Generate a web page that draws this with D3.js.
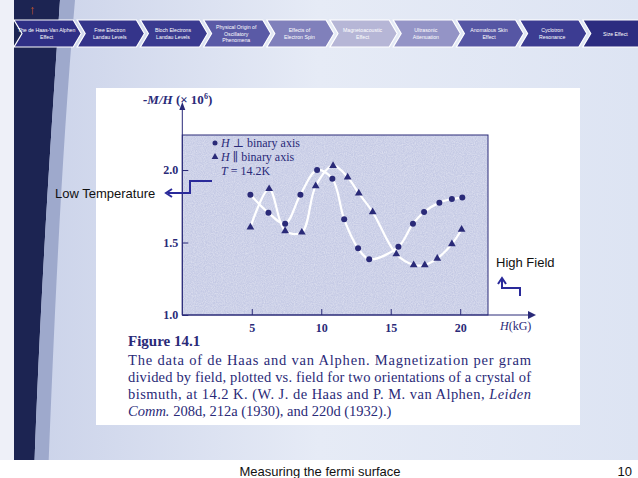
<!DOCTYPE html>
<html><head><meta charset="utf-8">
<script src="https://cdn.jsdelivr.net/npm/d3@7"></script>
<style>body{margin:0;background:#fff}svg{display:block}</style>
</head><body>
<svg id="slide" width="638" height="478"></svg>
<script>
var navLabels = ["The de Haas-Van Alphen\nEffect", "Free Electron\nLandau Levels", "Bloch Electrons\nLandau Levels",
  "Physical Origin of\nOscillatory\nPhenomena", "Effects of\nElectron Spin", "Magnetoacoustic\nEffect",
  "Ultrasonic\nAttenuation", "Anomalous Skin\nEffect", "Cyclotron\nResonance", "Size Effect"];
var navColors = ["#2f2f85", "#34348a", "#3a3a90", "#5a5aa6", "#8080bb", "#b6b6d6", "#9494c6", "#5656a4", "#3c3c92", "#2c2c80"];

var perpH = [4.9, 6.2, 7.4, 8.5, 9.7, 10.8, 11.65, 12.65, 13.45, 15.55, 16.6, 17.4, 18.5, 19.4, 20.15];
var perpM = [1.83, 1.705, 1.63, 1.83, 2.0, 1.94, 1.66, 1.46, 1.385, 1.47, 1.63, 1.71, 1.775, 1.80, 1.81];
var parH = [4.9, 6.25, 7.4, 8.6, 9.6, 10.85, 11.9, 12.7, 13.7, 15.4, 16.65, 17.45, 18.35, 19.4, 20.1];
var parM = [1.605, 1.87, 1.58, 1.57, 1.89, 2.03, 1.95, 1.84, 1.71, 1.42, 1.345, 1.345, 1.39, 1.49, 1.59];
var xTicks = [5, 10, 15, 20];
var yTicks = [1.0, 1.5, 2.0];

var svg = d3.select("#slide");
var defs = svg.append("defs");
var g1 = defs.append("linearGradient").attr("id", "bg").attr("x1", 0).attr("x2", 1);
g1.append("stop").attr("offset", 0).attr("stop-color", "#c8d0e8");
g1.append("stop").attr("offset", 0.5).attr("stop-color", "#e6ebf6");
g1.append("stop").attr("offset", 1).attr("stop-color", "#dde4f3");
var f = defs.append("filter").attr("id", "noise");
f.append("feTurbulence").attr("type", "fractalNoise").attr("baseFrequency", 0.9).attr("numOctaves", 2).attr("result", "n");
f.append("feColorMatrix").attr("type", "matrix").attr("values", "0 0 0 0 1  0 0 0 0 1  0 0 0 0 1  0 0 0 1.4 -0.35");
f.append("feComposite").attr("in2", "SourceGraphic").attr("operator", "in");

// slide background
svg.append("rect").attr("width", 638).attr("height", 478).attr("fill", "url(#bg)");
svg.append("rect").attr("x", 0).attr("y", 0).attr("width", 14).attr("height", 478).attr("fill", "#eef0f8");
svg.append("path").attr("d", "M14,0 H60 C50,150 40,300 34,478 H14 Z").attr("fill", "#1c2452");
svg.append("path").attr("d", "M60,0 H75 C62,150 55,300 48,478 H34 C40,300 50,150 60,0 Z").attr("fill", "#9ea9cc");
svg.append("rect").attr("x", 0).attr("y", 460).attr("width", 638).attr("height", 18).attr("fill", "#fff");
svg.append("rect").attr("x", 20).attr("y", 0).attr("width", 38).attr("height", 18).attr("fill", "#1c2452");
svg.append("text").attr("x", 29).attr("y", 14).attr("fill", "#d05a20").attr("font-size", 13).attr("font-weight", "bold").text("↑");

// nav bar
var nw = 63.2, ny = 20, nh = 27;
var nav = svg.append("g").selectAll("g").data(navLabels).enter().append("g")
  .attr("transform", function (d, i) { return "translate(" + (14 + i * nw) + "," + ny + ")"; });
nav.append("path")
  .attr("d", "M0,0 H" + (nw - 4) + " L" + (nw + 4) + "," + nh / 2 + " L" + (nw - 4) + "," + nh + " H0 L8," + nh / 2 + " Z")
  .attr("fill", function (d, i) { return navColors[i]; }).attr("stroke", "#fff").attr("stroke-width", 1.2);
nav.each(function (d) {
  var lines = d.split("\n");
  var t = d3.select(this).append("text").attr("text-anchor", "middle").attr("fill", "#fff")
    .attr("font-family", "Liberation Sans, Arial").attr("font-size", 5.2);
  lines.forEach(function (l, k) {
    t.append("tspan").attr("x", nw / 2 + 1).attr("y", nh / 2 + 2 + (k - (lines.length - 1) / 2) * 6.2).text(l);
  });
});

// figure panel
svg.append("rect").attr("x", 96).attr("y", 88).attr("width", 484).attr("height", 337).attr("fill", "#fff");

var x = d3.scaleLinear().domain([0, 22]).range([182.3, 488]);
var y = d3.scaleLinear().domain([1.0, 2.0]).range([315, 170]);
var ink = "#2a2a78";

svg.append("rect").attr("x", x(0)).attr("y", 135).attr("width", 488 - x(0)).attr("height", 315 - 135)
  .attr("fill", "#c4c9e4");
svg.append("rect").attr("x", x(0)).attr("y", 135).attr("width", 488 - x(0)).attr("height", 315 - 135)
  .attr("fill", "#fff").attr("filter", "url(#noise)").attr("opacity", 0.45);
svg.append("rect").attr("x", x(0)).attr("y", 135).attr("width", 488 - x(0)).attr("height", 315 - 135)
  .attr("fill", "none").attr("stroke", ink).attr("stroke-width", 1);

var fig = svg.append("g").attr("font-family", "Liberation Serif, DejaVu Serif").attr("fill", ink);
fig.append("g").attr("transform", "translate(0,315)")
  .call(d3.axisBottom(x).tickValues(xTicks).tickSize(-6).tickPadding(8).tickFormat(d3.format("d")))
  .call(function (a) {
    a.select(".domain").attr("stroke", ink).attr("d", "M" + x(0) + ",0H528");
    a.selectAll("line").attr("stroke", ink);
    a.selectAll("text").attr("fill", ink).attr("font-size", 12).attr("font-weight", "bold").attr("font-family", "Liberation Serif");
  });
fig.append("g").attr("transform", "translate(" + x(0) + ",0)")
  .call(d3.axisLeft(y).tickValues(yTicks).tickSize(-6).tickPadding(4).tickFormat(d3.format(".1f")))
  .call(function (a) {
    a.select(".domain").attr("stroke", ink).attr("d", "M0,315V108");
    a.selectAll("line").attr("stroke", ink);
    a.selectAll("text").attr("fill", ink).attr("font-size", 12).attr("font-weight", "bold").attr("font-family", "Liberation Serif");
  });
fig.append("path").attr("d", "M528,311 L536,315 L528,319 Z");
fig.append("path").attr("d", "M" + (x(0) - 3) + ",110 L" + x(0) + ",102 L" + (x(0) + 3) + ",110 Z");
fig.append("text").attr("x", 143).attr("y", 104).attr("font-size", 13).attr("font-style", "italic").attr("font-weight", "bold")
  .html("-M/H <tspan font-style='normal'>(× 10</tspan><tspan font-style='normal' dy='-5' font-size='8'>6</tspan><tspan font-style='normal' dy='5'>)</tspan>");
fig.append("text").attr("x", 500).attr("y", 330).attr("font-size", 12).html("<tspan font-style='italic'>H</tspan>(kG)");

// white curves
var line = d3.line().x(function (d) { return x(d[0]); }).y(function (d) { return y(d[1]); }).curve(d3.curveCatmullRom);
[[perpH, perpM], [parH, parM]].forEach(function (s) {
  svg.append("path").attr("d", line(d3.zip(s[0], s[1]))).attr("fill", "none").attr("stroke", "#fff").attr("stroke-width", 2.2);
});
svg.append("g").selectAll("circle").data(d3.zip(perpH, perpM)).enter().append("circle")
  .attr("cx", function (d) { return x(d[0]); }).attr("cy", function (d) { return y(d[1]); }).attr("r", 3).attr("fill", ink);
svg.append("g").selectAll("path").data(d3.zip(parH, parM)).enter().append("path")
  .attr("d", d3.symbol().type(d3.symbolTriangle).size(26))
  .attr("transform", function (d) { return "translate(" + x(d[0]) + "," + y(d[1]) + ")"; }).attr("fill", ink);

// legend
var lg = fig.append("g").attr("font-size", 12);
lg.append("circle").attr("cx", 215).attr("cy", 143).attr("r", 2.5);
lg.append("text").attr("x", 221).attr("y", 147).html("<tspan font-style='italic'>H</tspan> ⊥ binary axis");
lg.append("path").attr("d", d3.symbol().type(d3.symbolTriangle).size(20)).attr("transform", "translate(215,157)");
lg.append("text").attr("x", 221).attr("y", 161).html("<tspan font-style='italic'>H</tspan> ∥ binary axis");
lg.append("text").attr("x", 221).attr("y", 175).html("<tspan font-style='italic'>T</tspan> = 14.2K");

// caption
var cap = svg.append("g").attr("font-family", "Liberation Serif, DejaVu Serif").attr("fill", ink).attr("font-size", 14.5);
cap.append("text").attr("x", 128).attr("y", 346).attr("font-weight", "bold").attr("font-size", 15).text("Figure 14.1");
["The data of de Haas and van Alphen. Magnetization per gram",
 "divided by field, plotted vs. field for two orientations of a crystal of",
 "bismuth, at 14.2 K. (W. J. de Haas and P. M. van Alphen, <tspan font-style='italic'>Leiden</tspan>",
 "<tspan font-style='italic'>Comm.</tspan> 208d, 212a (1930), and 220d (1932).)"].forEach(function (l, i) {
  cap.append("text").attr("x", 128).attr("y", 365 + i * 17).attr("textLength", i < 3 ? 403 : null).html(l);
});

// annotations
var ann = svg.append("g").attr("stroke", "#2a2a9a").attr("stroke-width", 2).attr("fill", "none");
ann.append("path").attr("d", "M212,181 H190 V193 H168");
ann.append("path").attr("d", "M172,189 L166,193 L172,197");
ann.append("path").attr("d", "M520,296 V288 H502 V280");
ann.append("path").attr("d", "M498,284 L502,278 L506,284");
svg.append("text").attr("x", 55).attr("y", 198).attr("font-family", "Liberation Sans, Arial").attr("font-size", 13).attr("fill", "#111").text("Low Temperature");
svg.append("text").attr("x", 496).attr("y", 267).attr("font-family", "Liberation Sans, Arial").attr("font-size", 13).attr("fill", "#111").text("High Field");

// footer
svg.append("text").attr("x", 320).attr("y", 476).attr("text-anchor", "middle").attr("font-family", "Liberation Sans, Arial").attr("font-size", 13).attr("fill", "#111").text("Measuring the fermi surface");
svg.append("text").attr("x", 632).attr("y", 476).attr("text-anchor", "end").attr("font-family", "Liberation Sans, Arial").attr("font-size", 13).attr("fill", "#111").text("10");
</script>
</body></html>
